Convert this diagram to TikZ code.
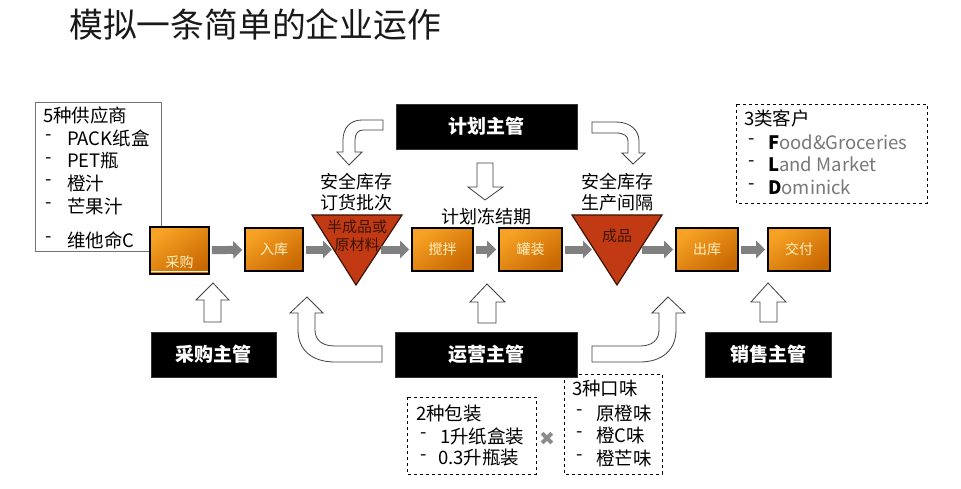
\documentclass[tikz,border=0pt]{standalone}
\usepackage{fontspec}
\setmainfont{Noto Sans CJK SC}
\newfontfamily\djv{DejaVu Sans}
\usetikzlibrary{arrows.meta,calc}
\definecolor{orA}{RGB}{247,162,36}
\definecolor{orB}{RGB}{200,104,2}
\definecolor{tri}{RGB}{194,58,20}
\definecolor{triD}{RGB}{60,20,5}
\definecolor{cream}{RGB}{255,240,190}
\definecolor{flowgray}{RGB}{128,128,128}
\definecolor{txtgray}{RGB}{120,120,120}
\begin{document}
\begin{tikzpicture}[x=1pt,y=-1pt,
 proc/.style={draw=black, line width=1.6pt, top color=orA, bottom color=orB, shading angle=35, inner sep=0pt, text=cream, font=\fontsize{14}{14}\selectfont},
 boss/.style={fill=black, draw=black!80, text=white, inner sep=0pt, minimum height=45pt, font=\bfseries\fontsize{19}{19}\selectfont},
 flow/.style={draw=flowgray, line width=8pt, -{Triangle[length=9pt,width=17pt]}, shorten <=2pt, shorten >=2pt},
 hollow/.style={draw=black!75, fill=white, line width=0.8pt, line join=miter},
 trishape/.style={fill=tri, draw=triD, line width=1.2pt, line join=miter},
 lst/.style={anchor=west, inner sep=0pt, font=\fontsize{18.5}{20}\selectfont},
 dbox/.style={draw=black, dashed, line width=0.8pt},
 note/.style={inner sep=0pt, align=center, font=\fontsize{18}{21}\selectfont},
 tritxt/.style={inner sep=0pt, align=center, text=triD, font=\fontsize{15}{18}\selectfont}
]
\useasboundingbox[fill=white] (0,0) rectangle (961,489);

% title
\node[anchor=west, inner sep=0pt, text=black!90, font=\fontsize{33.8}{34}\selectfont] (title) at (69,25) {模拟一条简单的企业运作};

% supplier box
\draw[draw=black!55, line width=1pt] (35,103) rectangle (161,251);
\node[lst] (sup) at (43,115) {5种供应商};
\foreach \yy/\tt [count=\i] in {138/PACK纸盒, 161/PET瓶, 183/橙汁, 206/芒果汁, 240/维他命C}{
  \node[lst] (supd\i) at (45,\yy) {-};
  \node[lst] (sup\i) at (67,\yy) {\tt};
}

% customer box
\draw[dbox] (736,104) rectangle (927,203);
\node[lst] (cus) at (744,118) {3类客户};
\node[lst] (cusd1) at (748,142) {-};
\node[lst] (cus1) at (768,142) {\textbf{F}\textcolor{txtgray}{ood\&Groceries}};
\node[lst] (cusd2) at (748,164) {-};
\node[lst] (cus2) at (768,164) {\textbf{L}\textcolor{txtgray}{and Market}};
\node[lst] (cusd3) at (748,187) {-};
\node[lst] (cus3) at (768,187) {\textbf{D}\textcolor{txtgray}{ominick}};

% packaging box
\draw[dbox] (407,397) rectangle (536,474);
\node[lst] (pk) at (416,413) {2种包装};
\node[lst] (pkd1) at (420,436) {-};
\node[lst] (pk1) at (440,436) {1升纸盒装};
\node[lst] (pkd2) at (420,458) {-};
\node[lst] (pk2) at (438,458) {0.3升瓶装};

% flavour box
\draw[dbox] (564,374) rectangle (662,474);
\node[lst] (fl) at (572,388) {3种口味};
\node[lst] (fld1) at (576,413) {-};
\node[lst] (fl1) at (596,413) {原橙味};
\node[lst] (fld2) at (576,435) {-};
\node[lst] (fl2) at (596,435) {橙C味};
\node[lst] (fld3) at (576,458) {-};
\node[lst] (fl3) at (596,458) {橙芒味};

% times mark
\node[inner sep=0pt, text=black!45, font=\djv\fontsize{19}{19}\selectfont] (times) at (547,439) {✖};

% process boxes
\node[proc, minimum width=59pt, minimum height=47pt] (cg) at (179.5,250.5) {};
\node[text=cream, inner sep=0pt, font=\fontsize{14}{14}\selectfont] (cgt) at (179.5,262) {采购};
\draw[cream!85!white, line width=1.4pt] ($(cg.south west)+(2,-3.5)$) -- ($(cg.south east)+(-2,-3.5)$);
\node[proc, minimum width=58pt, minimum height=43pt] (rk) at (274,249.5) {入库};
\node[proc, minimum width=61pt, minimum height=43pt] (jb) at (442.5,249.5) {搅拌};
\node[proc, minimum width=63pt, minimum height=43pt] (gz) at (530.5,249.5) {罐装};
\node[proc, minimum width=62pt, minimum height=43pt] (ck) at (707,249.5) {出库};
\node[proc, minimum width=62pt, minimum height=43pt] (jf) at (799,249.5) {交付};

% triangles
\draw[trishape] (312,215) -- (402,215) -- (356,285) -- cycle;
\coordinate (t1w) at (334,249.5);
\coordinate (t1e) at (379,249.5);
\node[tritxt] (t1t) at (357,236) {半成品或\\原材料};
\draw[trishape] (572,215) -- (662,215) -- (617,285) -- cycle;
\coordinate (t2w) at (594,249.5);
\coordinate (t2e) at (640,249.5);
\node[tritxt] (t2t) at (617,236) {成品};

% notes above
\node[note] (n1) at (356,192.5) {安全库存\\订货批次};
\node[note] (n2) at (617,192.5) {安全库存\\生产间隔};
\node[note] (n3) at (486,217) {计划冻结期};

% flow arrows
\draw[flow] (cg) -- (rk);
\draw[flow] (rk) -- (t1w);
\draw[flow] (t1e) -- (jb);
\draw[flow] (jb) -- (gz);
\draw[flow] (gz) -- (t2w);
\draw[flow] (t2e) -- (ck);
\draw[flow] (ck) -- (jf);

% managers
\node[boss, minimum width=181pt] (jh) at (486.5,126.5) {计划主管};
\node[boss, minimum width=125pt] (cgzg) at (213.5,354.5) {采购主管};
\node[boss, minimum width=182pt] (yy) at (486,354.5) {运营主管};
\node[boss, minimum width=126pt] (xs) at (768,354.5) {销售主管};

% hollow arrows
\draw[hollow] (204,322) -- (204,300) -- (196,300) -- (213,283) -- (229,300) -- (221,300) -- (221,322) -- cycle;
\draw[hollow] (478,323) -- (478,302) -- (470,302) -- (487,284) -- (505,302) -- (496,302) -- (496,323) -- cycle;
\draw[hollow] (760,322) -- (760,302) -- (751,302) -- (768,283) -- (786,302) -- (777,302) -- (777,322) -- cycle;
\draw[hollow] (477,163) -- (477,187) -- (468,187) -- (485,200) -- (503,187) -- (493,187) -- (493,163) -- cycle;
\draw[hollow] (383,120) -- (362,120) .. controls (350,120) and (343,128) .. (343,140) -- (343,152) -- (337,152) -- (349,165) -- (362,152) -- (355,152) -- (355,140) .. controls (355,134) and (358,130) .. (363,130) -- (383,130) -- cycle;
\draw[hollow] (592,122) -- (616,122) .. controls (630,122) and (639,130) .. (639,141) -- (639,153) -- (645,153) -- (633,164) -- (622,153) -- (628,153) -- (628,141) .. controls (628,136) and (624,133) .. (616,133) -- (592,133) -- cycle;
\draw[hollow] (382,346) -- (335,346) .. controls (322,346) and (315,340) .. (315,330) -- (315,313) -- (323,313) -- (307,297) -- (290,313) -- (298,313) -- (298,330) .. controls (298,350) and (312,362) .. (335,362) -- (382,362) -- cycle;
\draw[hollow] (592,346) -- (640,346) .. controls (652,346) and (659,340) .. (659,330) -- (659,313) -- (652,313) -- (668,297) -- (685,313) -- (676,313) -- (676,330) .. controls (676,350) and (662,362) .. (640,362) -- (592,362) -- cycle;
\end{tikzpicture}
\end{document}
